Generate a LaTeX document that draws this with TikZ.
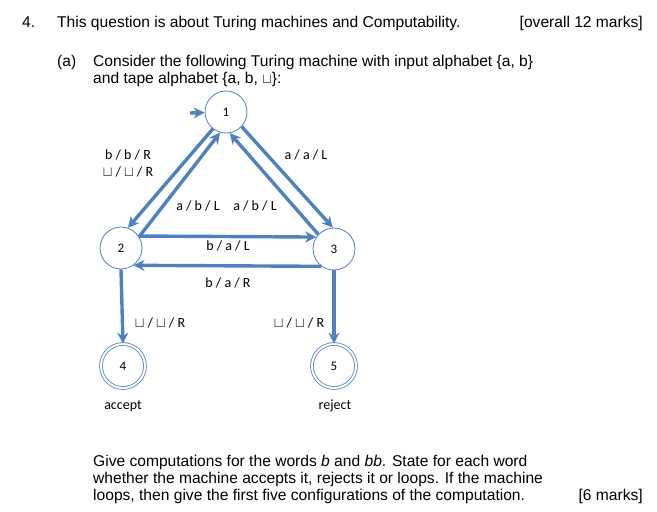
\documentclass[tikz,border=0pt]{standalone}
\usepackage{fontspec}
\setmainfont{Liberation Sans}
\newfontfamily\lab{Carlito}
\usetikzlibrary{arrows.meta}
\definecolor{ob}{RGB}{79,129,189}
\begin{document}
\begin{tikzpicture}[x=1pt,y=-1pt,
  st/.style={circle,draw=ob,line width=0.8pt,minimum size=42pt,inner sep=0pt,font=\lab\fontsize{13}{15}\selectfont},
  fin/.style={st,double=white,double distance=2pt,minimum size=44pt},
  ar/.style={draw=ob,line width=3.4pt,-{Stealth[length=11pt,width=11pt]}},
  lb/.style={font=\lab\fontsize{14}{16}\selectfont,inner sep=0pt},
  tx/.style={font=\fontsize{15.6}{17}\selectfont,inner sep=0pt,anchor=base west}]
\useasboundingbox (0,0) rectangle (657,512);
\node[tx] (q4) at (22,27) {4.};
\node[tx] (q) at (57,27) {This question is about Turing machines and Computability.};
\node[tx,anchor=base east] (m) at (643,27) {[overall 12 marks]};
\node[tx] (qa) at (57,66) {(a)};
\node[tx] (c1) at (93,66) {Consider the following Turing machine with input alphabet \{a, b\}};
\node[tx] (c2) at (93,83) {and tape alphabet \{a, b, $\sqcup$\}:};
\node[st] (n1) at (226,112) {1};
\node[st] (n2) at (121,248) {2};
\node[st] (n3) at (334,249) {3};
\node[fin] (n4) at (123,366) {4};
\node[fin] (n5) at (334,366) {5};
\coordinate (s) at (190,113);
\draw[ar] (s) -- (n1);
\draw[ar] (n1.232) -- (n2.71);
\draw[ar] (n2.32) -- (n1.254);
\draw[ar] (n1.317) -- (n3.93);
\draw[ar] (n3.137) -- (n1.280);
\draw[ar] (n2.34) -- (n3.146);
\draw[ar] (n3.234) -- (n2.306);
\draw[ar] (n2.270) -- (n4.90);
\draw[ar] (n3.270) -- (n5.90);
\node[lb] at (128,155) {b / b / R};
\node[lb] at (128,172) {$\sqcup$ / $\sqcup$ / R};
\node[lb] at (306,155) {a / a / L};
\node[lb] at (198,206) {a / b / L};
\node[lb] at (255,206) {a / b / L};
\node[lb] at (228,246) {b / a / L};
\node[lb] at (228,283) {b / a / R};
\node[lb] at (160,323) {$\sqcup$ / $\sqcup$ / R};
\node[lb] at (299,323) {$\sqcup$ / $\sqcup$ / R};
\node[lb] at (123,406) {accept};
\node[lb] at (335,406) {reject};
\node[tx] (g1) at (93,466) {Give computations for the words \textit{b} and \textit{bb}. State for each word};
\node[tx] (g2) at (93,483) {whether the machine accepts it, rejects it or loops. If the machine};
\node[tx] (g3) at (93,500) {loops, then give the first five configurations of the computation.};
\node[tx,anchor=base east] (g4) at (643,500) {[6 marks]};
\end{tikzpicture}
\end{document}
